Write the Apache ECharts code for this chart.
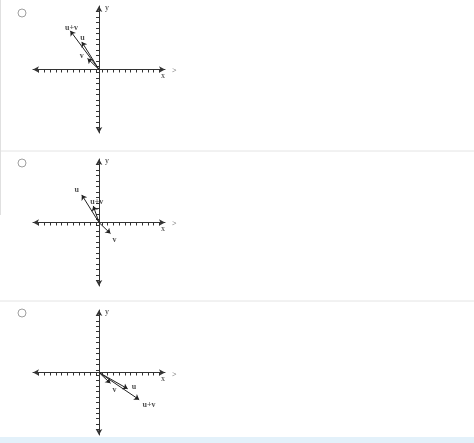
<!DOCTYPE html>
<html>
<head>
<meta charset="utf-8">
<script src="https://cdn.jsdelivr.net/npm/echarts@6/dist/echarts.min.js"></script>
<style>
  html, body { margin: 0; padding: 0; background: #fff; }
  #chart { width: 474px; height: 443px; }
</style>
</head>
<body>
<div id="chart"></div>
<script>
// vectors per option: [name, x, y]
const vectors1 = [["u+v", -5, 7], ["u", -3, 5], ["v", -2, 2]];
const vectors2 = [["u", -3, 5], ["v", 2, -2], ["u+v", -1, 3]];
const vectors3 = [["u", 5, -3], ["v", 2, -2], ["u+v", 7, -5]];
// where the vector names are printed
const labels1 = [["u+v", -4.8, 7.6], ["u", -2.9, 5.8], ["v", -3, 2.4]];
const labels2 = [["u", -3.9, 5.9], ["u+v", -0.4, 3.7], ["v", 2.7, -3.1]];
const labels3 = [["u", 6.1, -2.7], ["v", 2.7, -3.3], ["u+v", 8.7, -5.9]];
const tickLabels = [-10, -5, 5, 10];

const panels = [
  { vec: vectors1, lab: labels1, top: 6 },
  { vec: vectors2, lab: labels2, top: 159 },
  { vec: vectors3, lab: labels3, top: 310 }
];

const font = "Liberation Serif";
const myChart = echarts.init(document.getElementById("chart"));

const grid = [], xAxis = [], yAxis = [], series = [], graphic = [];
panels.forEach((p, i) => {
  grid.push({ left: 33, width: 132, top: p.top, height: 127 });
  const axisCommon = {
    min: -11.5, max: 11.5, interval: 1,
    gridIndex: i,
    axisLine: { onZero: true, symbol: ["arrow", "arrow"], symbolSize: [5, 6], lineStyle: { color: "#333", width: 1 } },
    axisTick: { show: true, length: 3, inside: false, lineStyle: { color: "#333" } },
    splitLine: { show: false },
    axisLabel: {
      fontSize: 7, fontFamily: font, color: "#333",
      showMinLabel: false, showMaxLabel: false,
      formatter: v => (tickLabels.indexOf(v) >= 0 ? String(v) : "")
    }
  };
  xAxis.push(Object.assign({}, axisCommon, { type: "value", name: "x", nameGap: -4,
    nameTextStyle: { fontSize: 8, fontFamily: font, color: "#333", verticalAlign: "top", padding: [2, 0, 0, 0] } }));
  yAxis.push(Object.assign({}, axisCommon, { type: "value", name: "y", nameGap: -6,
    nameTextStyle: { fontSize: 8, fontFamily: font, color: "#333", align: "left", padding: [0, 0, 0, 6] } }));

  series.push({
    type: "lines", coordinateSystem: "cartesian2d", xAxisIndex: i, yAxisIndex: i,
    symbol: ["none", "arrow"], symbolSize: 5,
    lineStyle: { color: "#222", width: 1, opacity: 1 },
    data: p.vec.map(v => ({ coords: [[0, 0], [v[1], v[2]]] }))
  });
  series.push({
    type: "scatter", xAxisIndex: i, yAxisIndex: i, symbolSize: 0,
    label: { show: true, position: "inside", formatter: d => d.data[2],
      fontSize: 8, fontWeight: "bold", fontFamily: font, color: "#222" },
    data: p.lab.map(l => [l[1], l[2], l[0]])
  });

  const base = i * 150;
  graphic.push({ type: "circle", shape: { cx: 22, cy: base + 13, r: 4 },
    style: { fill: "#fff", stroke: "#888", lineWidth: 0.8 } });
  graphic.push({ type: "text", left: 172, top: p.top + 61,
    style: { text: ">", fontSize: 8, fontFamily: font, fill: "#555" } });
  if (i > 0) {
    graphic.push({ type: "line", shape: { x1: 0, y1: base + 1, x2: 474, y2: base + 1 },
      style: { stroke: "#e4e4e4", lineWidth: 1 } });
  }
});
graphic.push({ type: "line", shape: { x1: 0.5, y1: 0, x2: 0.5, y2: 215 },
  style: { stroke: "#e0e0e0", lineWidth: 1 } });
graphic.push({ type: "rect", shape: { x: 0, y: 437, width: 474, height: 6 },
  style: { fill: "#e3f1fa" } });

myChart.setOption({ animation: false, grid, xAxis, yAxis, series, graphic });
</script>
</body>
</html>
